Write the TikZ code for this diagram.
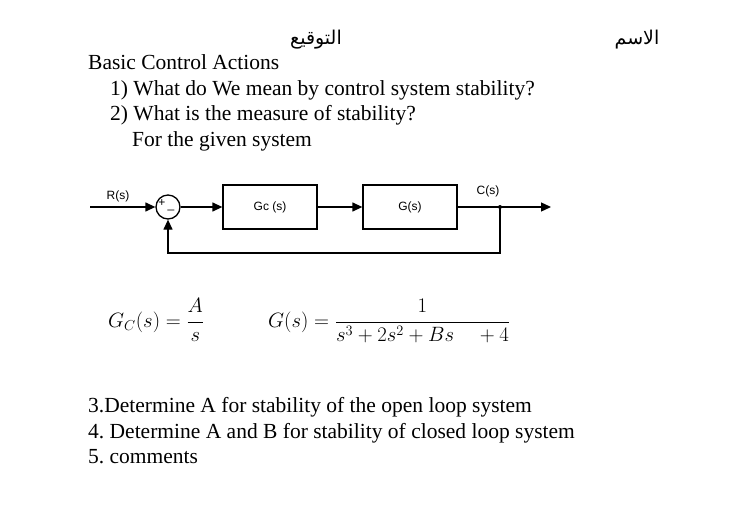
\documentclass[tikz,border=0pt]{standalone}
\usepackage{fontspec}
\setmainfont{Liberation Serif}
\newfontfamily\arabicfont[Script=Arabic]{DejaVu Sans}
\newfontfamily\arial{Liberation Sans}
\TeXXeTstate=1
\frenchspacing
\usetikzlibrary{arrows.meta}
\begin{document}
\begin{tikzpicture}[x=1pt,y=-1pt,
  txt/.style={anchor=base west,inner sep=0pt,font=\fontsize{21.5}{24}\selectfont},
  blk/.style={draw,line width=1.3pt,minimum width=94pt,minimum height=44pt,font=\arial\fontsize{12}{14}\selectfont},
  lab/.style={font=\arial\fontsize{12}{14}\selectfont,inner sep=0pt},
  sig/.style={line width=1.3pt,-{Triangle[length=10pt,width=9pt]}},
  eq/.style={anchor=base west,inner sep=0pt,font=\fontsize{21}{24}\selectfont}]
\useasboundingbox (0,0) rectangle (750,512);
\node[inner sep=0pt,font=\arabicfont\fontsize{19}{22}\selectfont] (sig) at (316,40) {\beginR التوقيع\endR};
\node[inner sep=0pt,font=\arabicfont\fontsize{19}{22}\selectfont] (nm) at (637,40) {\beginR الاسم\endR};
\node[txt] (t1) at (88,69) {Basic Control Actions};
\node[txt] (t2) at (110,95) {1) What do We mean by control system stability?};
\node[txt] (t3) at (110,120) {2) What is the measure of stability?};
\node[txt] (t4) at (132,146) {For the given system};
% block diagram
\coordinate (in) at (90,207);
\node[draw,circle,line width=1.3pt,minimum size=24pt,inner sep=0pt] (sum) at (168,207) {};
\node[lab] at (162,203) {+};
\node[lab] at (171,210) {\_};
\node[lab] (r) at (118,196) {R(s)};
\node[blk] (gc) at (270,207) {Gc (s)};
\node[blk] (g) at (410,207) {G(s)};
\coordinate (tap) at (500,207);
\coordinate (out) at (551,207);
\coordinate (fb) at (500,253);
\node[lab] (c) at (488,191) {C(s)};
\draw[sig] (in) -- (sum.west);
\draw[sig] (sum.east) -- (gc.west);
\draw[sig] (gc.east) -- (g.west);
\draw[sig] (g.east) -- (out);
\fill (tap) circle (2pt);
\draw[sig] (tap) -- (fb) -| (sum.south);
% equations
\node[eq] (e1) at (108,327) {$G_C(s)=\displaystyle\frac{A}{s}$};
\node[eq] (e2) at (268,327) {$G(s)=\displaystyle\frac{1}{s^3+2s^2+Bs\quad+4}$};
\node[txt] (q3) at (88,412) {3.Determine A for stability of the open loop system};
\node[txt] (q4) at (88,438) {4. Determine A and B for stability of closed loop system};
\node[txt] (q5) at (88,463) {5. comments};
\end{tikzpicture}
\end{document}
